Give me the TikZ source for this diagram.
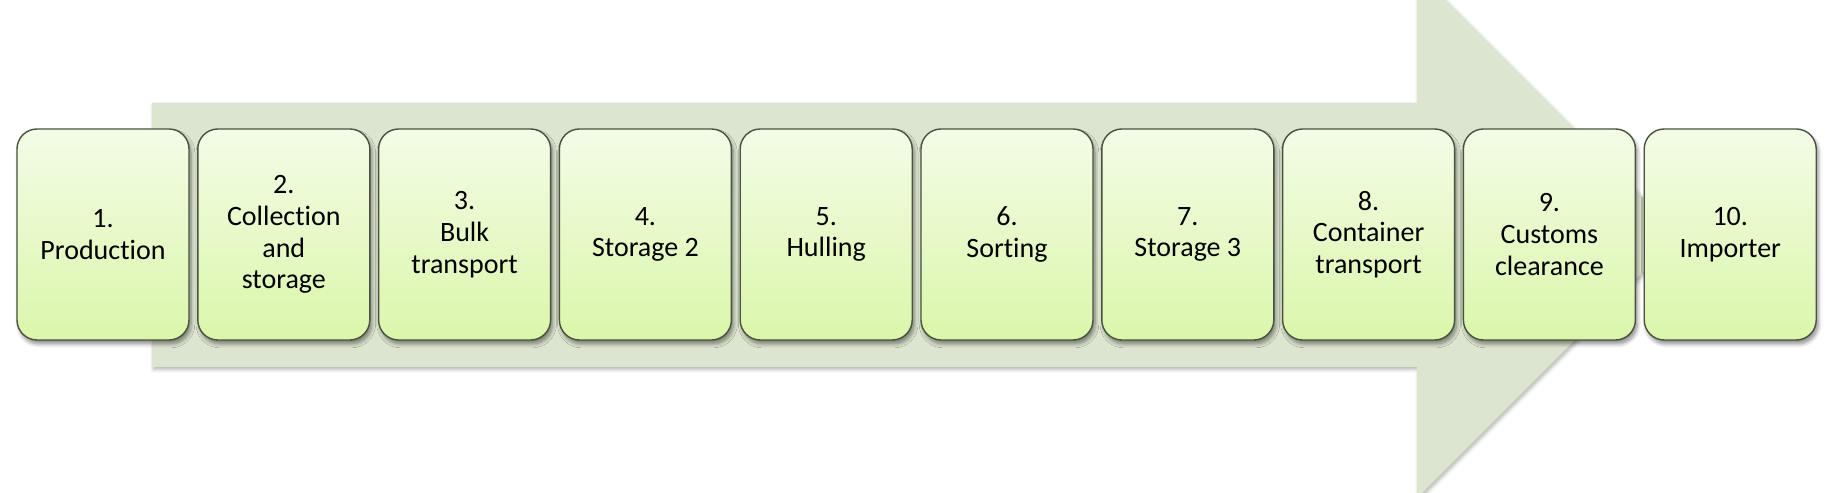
\documentclass[tikz,border=0pt]{standalone}
\usepackage{fontspec}
\setmainfont{Carlito}[Ligatures=NoCommon]
\usetikzlibrary{positioning,shadows.blur}

\definecolor{arrowgreen}{RGB}{220,229,208}
\definecolor{stagetop}{RGB}{243,252,231}
\definecolor{stagebottom}{RGB}{219,246,170}
\definecolor{stageline}{RGB}{72,82,62}

\tikzset{
  stage/.style={draw=stageline, line width=0.7pt, rounded corners=10pt,
    top color=stagetop, bottom color=stagebottom,
    minimum width=86pt, minimum height=105.5pt, inner sep=2pt, align=center,
    font=\fontsize{14pt}{15.9pt}\selectfont,
    blur shadow={shadow xshift=1pt, shadow yshift=-2pt, shadow opacity=45, shadow blur steps=6}},
  flow/.style={fill=arrowgreen,
    blur shadow={shadow xshift=0.8pt, shadow yshift=-1.2pt, shadow opacity=30, shadow blur steps=4}}
}

\begin{document}
\begin{tikzpicture}[x=0.5pt, y=0.5pt, node distance=3.7pt]
        \useasboundingbox (0,0) rectangle (1834,492);

        % big arrow behind the chain
        \fill[flow] (152,389) -- (1417,389) -- (1417,520) -- (1680,257)
                -- (1417,-6) -- (1417,125) -- (152,125) -- cycle;

        % stages
        \node[stage] (prod) at (103,257.5) {1.\\Production};
        \node[stage, right=of prod] (collect) {2.\\Collection\\and\\storage};
        \node[stage, right=of collect] (bulk) {3.\\Bulk\\transport};
        \node[stage, right=of bulk] (store2) {4.\\Storage 2};
        \node[stage, right=of store2] (hull) {5.\\Hulling};
        \node[stage, right=of hull] (sort) {6.\\Sorting};
        \node[stage, right=of sort] (store3) {7.\\Storage 3};
        \node[stage, right=of store3] (contain) {8.\\Container\\transport};
        \node[stage, right=of contain] (customs) {9.\\Customs\\clearance};
        \node[stage, right=of customs] (import) {10.\\Importer};
\end{tikzpicture}
\end{document}
